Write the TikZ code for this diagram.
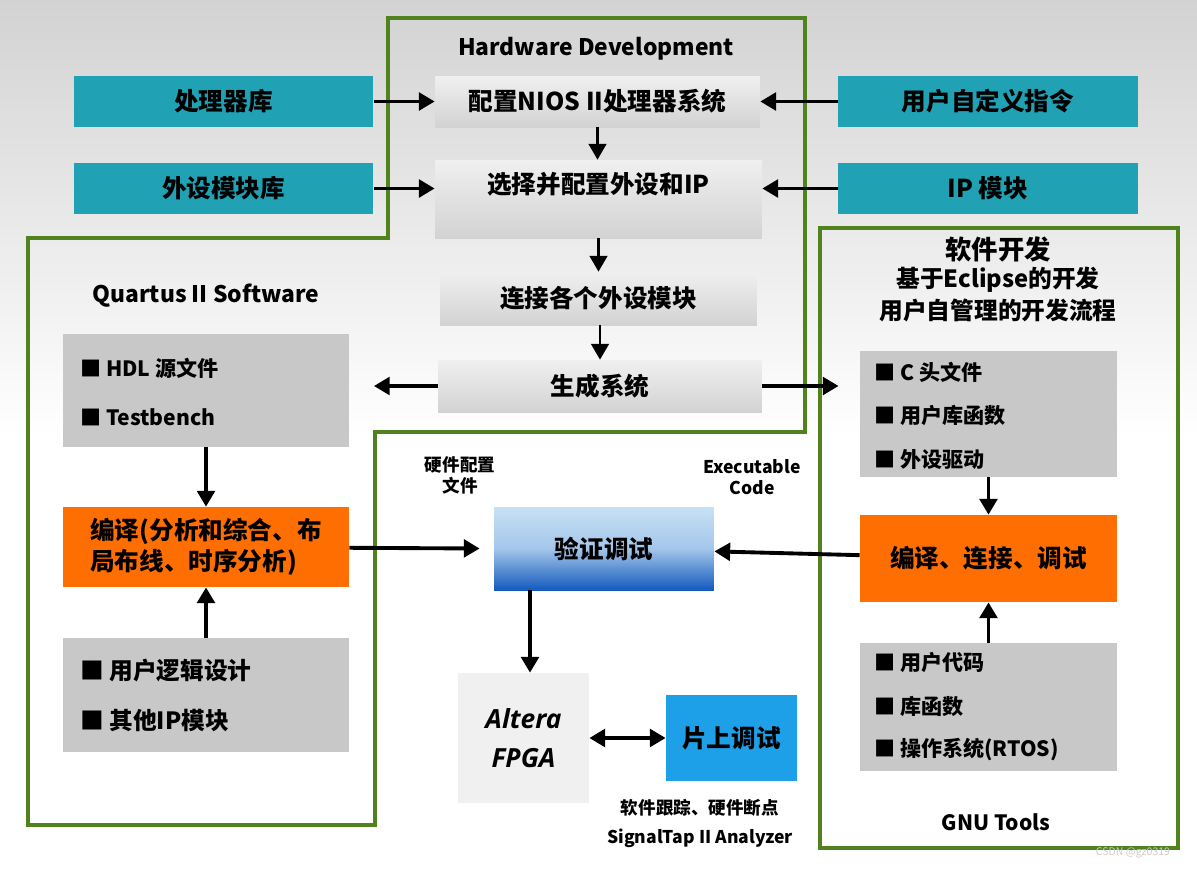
\documentclass[tikz,border=0pt]{standalone}
\usepackage{fontspec}
\setmainfont{Noto Sans CJK SC}
\newfontfamily\osans{Open Sans}
\usetikzlibrary{arrows.meta}
\definecolor{tealb}{RGB}{32,162,180}
\definecolor{grn}{RGB}{80,130,30}
\definecolor{org}{RGB}{255,110,0}
\definecolor{boxg}{RGB}{200,200,200}
\definecolor{chip}{RGB}{30,160,232}
\definecolor{vdark}{RGB}{20,90,190}
\definecolor{vlight}{RGB}{200,225,245}
\tikzset{
 px/.style={x=0.02cm,y=-0.02cm},
 tealbox/.style={fill=tealb,font=\fontsize{14}{16}\selectfont\bfseries},
 hwbox/.style={top color=gray!12,bottom color=gray!35,font=\fontsize{14}{16}\selectfont\bfseries},
 graybox/.style={fill=boxg},
 orbox/.style={fill=org,font=\fontsize{14}{18}\selectfont\bfseries},
 lst/.style={font=\fontsize{12}{14}\selectfont\bfseries,anchor=west},
 lbl/.style={font=\fontsize{12}{14}\selectfont\bfseries},
 sml/.style={font=\fontsize{10}{12}\selectfont\bfseries,align=center},
 arr/.style={-{Triangle[length=9pt,width=10pt]},line width=2.2pt},
 grnline/.style={draw=grn,line width=2.2pt}
}
\begin{document}
\begin{tikzpicture}[px]
\shade[top color=gray!35,bottom color=white,middle color=white] (0,0) rectangle (1197,870);
\useasboundingbox (0,0) rectangle (1197,870);
\draw[grnline] (388,18)--(805,18)--(805,432)--(375,432)--(375,825)--(28,825)--(28,238)--(388,238)--cycle;
\draw[grnline] (820,228) rectangle (1178,848);
% teal boxes
\node[tealbox,minimum width=6cm,minimum height=1.02cm] (plib) at (223.5,101.5) {处理器库};
\node[tealbox,minimum width=6cm,minimum height=1.02cm] (perlib) at (223.5,188.5) {外设模块库};
\node[tealbox,minimum width=6cm,minimum height=1.02cm] (uinst) at (988,101.5) {用户自定义指令};
\node[tealbox,minimum width=6cm,minimum height=1.02cm] (ipm) at (988,188.5) {IP 模块};
% hardware boxes
\node[hwbox,minimum width=6.5cm,minimum height=1.02cm] (cfg) at (597.5,101.5) {配置NIOS II处理器系统};
\node[hwbox,minimum width=6.54cm,minimum height=1.56cm,text depth=18pt] (sel) at (598.5,199) {选择并配置外设和IP};
\node[hwbox,minimum width=6.34cm,minimum height=1.06cm] (con) at (598.5,298.5) {连接各个外设模块};
\node[hwbox,minimum width=6.48cm,minimum height=1.04cm] (gen) at (600,386) {生成系统};
\node[font=\fontsize{13}{15}\selectfont\bfseries] (hwt) at (596,49) {Hardware Development};
\node[font=\fontsize{13}{15}\selectfont\bfseries] (qt) at (206,296) {Quartus II Software};
% left column
\node[graybox,minimum width=5.72cm,minimum height=2.26cm] (hdl) at (206,390.5) {};
\node[lst] (hdl1) at (74,368) {■\ HDL 源文件};
\node[lst] (hdl2) at (74,417) {■\ Testbench};
\node[orbox,minimum width=5.72cm,minimum height=1.6cm,align=left] (comp) at (206,547) {编译(分析和综合、布\\局布线、时序分析)};
\node[graybox,minimum width=5.72cm,minimum height=2.28cm] (ul) at (206,695) {};
\node[lst,font=\fontsize{13.5}{15}\selectfont\bfseries] (ul1) at (74,671) {■\ 用户逻辑设计};
\node[lst,font=\fontsize{13.5}{15}\selectfont\bfseries] (ul2) at (74,721) {■\ 其他IP模块};
% right column
\node[font=\fontsize{15}{17}\selectfont\bfseries] (swt) at (998,249) {软件开发};
\node[font=\fontsize{13.5}{15}\selectfont\bfseries] (sw2) at (998,280) {基于Eclipse的开发};
\node[font=\fontsize{13.5}{15}\selectfont\bfseries] (sw3) at (998,310) {用户自管理的开发流程};
\node[graybox,minimum width=5.14cm,minimum height=2.52cm] (ch) at (988.5,414) {};
\node[lst] (ch1) at (868,372) {■\ C 头文件};
\node[lst] (ch2) at (868,415) {■\ 用户库函数};
\node[lst] (ch3) at (868,459) {■\ 外设驱动};
\node[orbox,minimum width=5.14cm,minimum height=1.74cm] (cld) at (988.5,558.5) {编译、连接、调试};
\node[graybox,minimum width=5.14cm,minimum height=2.56cm] (uc) at (988.5,707) {};
\node[lst] (uc1) at (868,663) {■\ 用户代码};
\node[lst] (uc2) at (868,706) {■\ 库函数};
\node[lst] (uc3) at (868,749) {■\ 操作系统(RTOS)};
\node[lbl] (gnu) at (996,822) {GNU Tools};
% center bottom
\node[sml] (hwf) at (460,475) {硬件配置\\文件};
\node[sml] (exe) at (752,477) {Executable\\Code};
\node[minimum width=4.4cm,minimum height=1.66cm,top color=vlight,bottom color=vdark,middle color=vlight!80!vdark,font=\fontsize{14}{16}\selectfont\bfseries] (ver) at (604,548.5) {验证调试};
\node[fill=gray!12,minimum width=2.62cm,minimum height=2.6cm,align=center,font=\osans\fontsize{15}{22}\selectfont\bfseries\itshape] (fpga) at (523.5,738) {Altera\\FPGA};
\node[fill=chip,minimum width=2.62cm,minimum height=1.72cm,font=\fontsize{14}{16}\selectfont\bfseries] (chip) at (731.5,738) {片上调试};
\node[sml] (tr1) at (700,808) {软件跟踪、硬件断点};
\node[sml] (tr2) at (700,838) {SignalTap II Analyzer};
\node[font=\fontsize{6}{7}\selectfont,text=gray!40] (csdn) at (1133,853) {CSDN @gz0319};
% arrows
\draw[arr] (plib) -- (cfg);
\draw[arr] (uinst) -- (cfg);
\draw[arr] (perlib) -- (sel.west|-perlib);
\draw[arr] (ipm) -- (sel.east|-ipm);
\draw[arr,line width=1.6pt] (cfg) -- (cfg|-sel.north);
\draw[arr,line width=1.6pt] (sel.south-|con) -- (con);
\draw[arr,line width=1.6pt] (con.south-|gen) -- (gen);
\draw[arr] (gen.west) -- ([xshift=14]hdl.east|-gen.west);
\draw[arr] (gen.east) -- ([xshift=-12]ch.west|-gen.east);
\draw[arr] (hdl) -- (comp);
\draw[arr] (ul) -- (comp);
\draw[arr] (comp) -- ([xshift=-8]ver.west);
\draw[arr] (cld) -- (ver);
\coordinate (vs) at (530,590);
\draw[arr] (vs) -- (vs|-fpga.north);
\draw[{Triangle[length=9pt,width=10pt]}-{Triangle[length=9pt,width=10pt]},line width=2.2pt] (fpga) -- (chip);
\draw[arr] (ch) -- (cld);
\draw[arr] (uc) -- (cld);
\end{tikzpicture}
\end{document}
